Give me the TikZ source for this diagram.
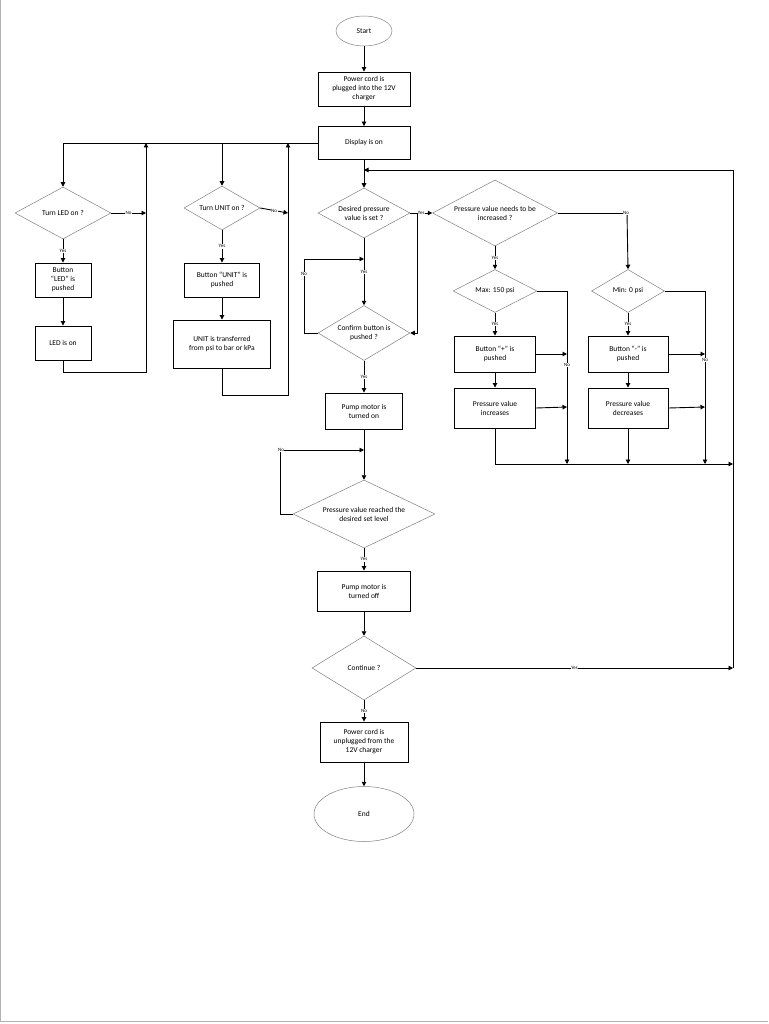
\documentclass[tikz,border=0pt]{standalone}
\usepackage{fontspec}
\setmainfont{Carlito}
\usetikzlibrary{shapes.geometric,arrows.meta,calc}
\begin{document}
\begin{tikzpicture}[x=1pt,y=1pt,
  box/.style={draw,line width=0.9pt,minimum width=#1,align=center,font=\fontsize{7.5}{9}\selectfont,inner sep=1pt},
  dia/.style={draw=gray,line width=0.5pt,diamond,aspect=1.8,align=center,font=\fontsize{7.5}{9}\selectfont,inner sep=0pt},
  term/.style={draw=gray,line width=0.5pt,ellipse,font=\fontsize{7.5}{9}\selectfont},
  ar/.style={line width=0.9pt,-{Triangle[length=4.5pt,width=4.5pt]}},
  ln/.style={line width=0.9pt},
  lab/.style={fill=white,inner sep=0.5pt,font=\fontsize{5}{6}\selectfont}]
\useasboundingbox (0,0) rectangle (768,-1024);
\draw[gray!60,line width=1pt] (0.5,-0.5) -- (0.5,-1021) -- (768,-1021);
% main column
\node[term,minimum width=56pt,minimum height=30pt] (start) at (364,-31) {Start};
\node[box=92pt,minimum height=34pt] (pc) at (364,-89) {Power cord is\\plugged into the 12V\\charger};
\node[box=92pt,minimum height=33pt] (disp) at (364,-143) {Display is on};
\node[dia,minimum width=92pt,minimum height=50pt] (des) at (364,-213) {Desired pressure\\value is set ?};
\node[dia,minimum width=92pt,minimum height=55pt] (conf) at (364,-333) {Confirm button is\\pushed ?};
\node[box=77pt,minimum height=36pt] (pon) at (364,-411) {Pump motor is\\turned on};
\node[dia,minimum width=142pt,minimum height=68pt] (reach) at (364,-514) {Pressure value reached the\\desired set level};
\node[box=93pt,minimum height=40pt] (poff) at (364,-591) {Pump motor is\\turned off};
\node[dia,minimum width=104pt,minimum height=64pt] (cont) at (364,-668) {Continue ?};
\node[box=88pt,minimum height=40pt] (unp) at (364,-742) {Power cord is\\unplugged from the\\12V charger};
\node[term,minimum width=100pt,minimum height=55pt] (end) at (364,-814) {End};
% LED branch
\node[dia,minimum width=96pt,minimum height=52pt] (led) at (63,-213) {Turn LED on ?};
\node[box=56pt,minimum height=34pt] (bled) at (63,-280) {Button\\“LED” is\\pushed};
\node[box=56pt,minimum height=34pt] (ledon) at (63,-343) {LED is on};
% UNIT branch
\node[dia,minimum width=76pt,minimum height=44pt] (unit) at (222,-208) {Turn UNIT on ?};
\node[box=75pt,minimum height=34pt] (bunit) at (222,-280) {Button “UNIT” is\\pushed};
\node[box=97pt,minimum height=48pt] (tr) at (222,-344) {UNIT is transferred\\from psi to bar or kPa};
% right
\node[dia,minimum width=125pt,minimum height=66pt] (inc) at (495,-213) {Pressure value needs to be\\increased ?};
\node[dia,minimum width=84pt,minimum height=43pt] (max) at (495,-291) {Max: 150 psi};
\node[box=81pt,minimum height=36pt] (bp) at (495,-354) {Button “+” is\\pushed};
\node[box=81pt,minimum height=40pt] (pinc) at (495,-408) {Pressure value\\increases};
\node[dia,minimum width=73pt,minimum height=43pt] (min) at (628,-291) {Min: 0 psi};
\node[box=80pt,minimum height=36pt] (bm) at (628,-354) {Button “-” is\\pushed};
\node[box=80pt,minimum height=40pt] (pdec) at (628,-408) {Pressure value\\decreases};
% coordinates
\coordinate (tl) at (63,-143);
\coordinate (tu) at (222,-143);
\coordinate (r1) at (146,-143);
\coordinate (r2) at (288,-143);
\coordinate (rt) at (733,-170);
\coordinate (bot) at (733,-464);
% main arrows
\draw[ar] (start) -- (pc);
\draw[ar] (pc) -- (disp);
\draw[ar] (disp) -- (des);
\draw[ln] (disp.west) -- (tl);
\draw[ar] (tl) -- (led.north);
\draw[ar] (tu) -- (unit.north);
\draw[ar] (led.south) -- node[lab]{Yes} (bled);
\draw[ar] (bled) -- (ledon);
\draw[ar] (led.east) -- node[lab]{No} (146,-213);
\draw[ar] (ledon.south) |- (146,-372) -- (r1);
\draw[ar] (unit.south) -- node[lab]{Yes} (bunit);
\draw[ar] (bunit) -- (tr);
\draw[ar] (unit.east) -- node[lab]{No} (288,-213);
\draw[ar] (tr.south) |- (288,-395) -- (r2);
\draw[ar] (des.south) -- node[lab,pos=0.5]{Yes} (conf.north);
\draw[ar] (conf.west) -| (304,-259) -- (364,-259);
\node[lab] at (304,-274) {No};
\draw[ar] (des.east) -- node[lab]{Yes} (inc.west);
\draw[ar] (417,-213) -- (417,-333) -- (conf.east);
\draw[ar] (conf.south) -- node[lab]{Yes} (pon);
\draw[ar] (pon) -- (reach.north);
\draw[ar] (reach.west) -| (280,-450) -- (364,-450);
\node[lab] at (281,-450) {No};
\draw[ar] (reach.south) -- node[lab]{Yes} (poff);
\draw[ar] (poff) -- (cont.north);
\draw[ar] (cont.south) -- node[lab]{No} (unp);
\draw[ar] (unp) -- (end);
\draw[ar] (cont.east) -- node[lab]{Yes} (733,-668);
\draw[ln] (733,-668) -- (rt);
\draw[ar] (rt) -- (364,-170);
% right arrows
\draw[ar] (inc.south) -- node[lab]{Yes} (max.north);
\draw[ln] (inc.east) -- (627,-213);
\draw[ar] (627,-213) -- (min.north);
\node[lab] at (626,-213) {No};
\draw[ar] (max.south) -- node[lab]{Yes} (bp);
\draw[ar] (bp) -- (pinc);
\draw[ar] (max.east) -| (567,-464);
\node[lab] at (567,-365) {No};
\draw[ar] (bp.east) -- (567,-354);
\draw[ar] (pinc.east) -- (567,-407);
\draw[ar] (pinc.south) |- (bot);
\draw[ar] (min.south) -- node[lab]{Yes} (bm);
\draw[ar] (bm) -- (pdec);
\draw[ar] (min.east) -| (705,-464);
\node[lab] at (705,-360) {No};
\draw[ar] (bm.east) -- (705,-354);
\draw[ar] (pdec.east) -- (705,-407);
\draw[ar] (pdec.south) -- (628,-464);
\end{tikzpicture}
\end{document}
